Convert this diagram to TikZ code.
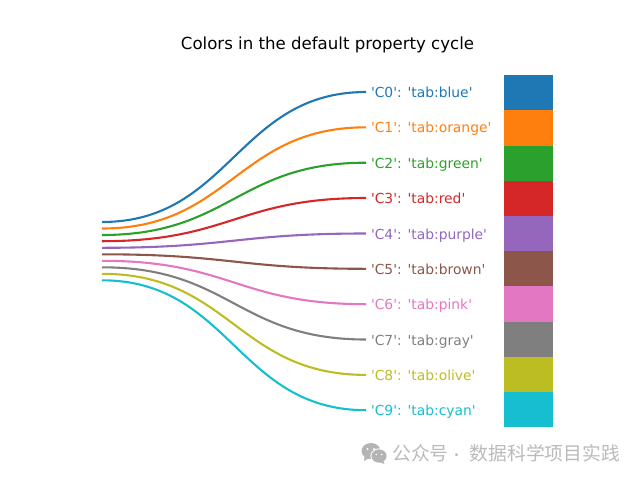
\documentclass[tikz,border=0pt]{standalone}
\usepackage{fontspec}
\newfontfamily\plainfont{DejaVu Sans}
\newfontfamily\cjkfont{Noto Sans CJK SC}
\definecolor{C0}{HTML}{1F77B4}
\definecolor{C1}{HTML}{FF7F0E}
\definecolor{C2}{HTML}{2CA02C}
\definecolor{C3}{HTML}{D62728}
\definecolor{C4}{HTML}{9467BD}
\definecolor{C5}{HTML}{8C564B}
\definecolor{C6}{HTML}{E377C2}
\definecolor{C7}{HTML}{7F7F7F}
\definecolor{C8}{HTML}{BCBD22}
\definecolor{C9}{HTML}{17BECF}
\definecolor{markgray}{HTML}{B4B4B4}
\definecolor{marktext}{HTML}{BABABA}
\begin{document}
\begin{tikzpicture}[
    x=1pt, y=-1pt,
    font=\plainfont\fontsize{13.85}{16}\selectfont,
    lab/.style={anchor=west, inner sep=0pt, outer xsep=5pt, text height=12pt, text depth=1pt},
    swatch/.style={minimum width=49pt, minimum height=35.4pt, inner sep=0pt, draw=none},
    curve/.style={line width=2.1pt},
    title/.style={font=\plainfont\fontsize{16.6}{20}\selectfont},
    wmark/.style={font=\cjkfont\fontsize{18.8}{22}\selectfont, text=marktext, inner sep=0pt}
]
\useasboundingbox (0,0) rectangle (640,480);

% Title
\node[title] (heading) at (327.5,44.5) {Colors in the default property cycle};

% Colour rows
\foreach \i/\name/\ya/\yb/\ys in {
    0/blue/222/92/92.6,
    1/orange/228.5/127.3/127.8,
    2/green/235/162.7/163.2,
    3/red/241.2/198/198.4,
    4/purple/247.8/233.5/233.6,
    5/brown/254.3/268.8/268.8,
    6/pink/260.8/304.2/304,
    7/gray/267.3/339.5/339.2,
    8/olive/273.8/374.9/374.4,
    9/cyan/280.3/410.2/409.6} {
    \coordinate (start\i) at (102,\ya);
    \node[lab, text=C\i] (label\i) at (366,\yb) {'C\i': 'tab:\name'};
    \node[swatch, fill=C\i] (swatch\i) at (528.5,\ys) {};
    \draw[curve, C\i] (start\i) .. controls +(128,0) and +(-128,0) .. (label\i.west);
}

% Watermark
\fill[markgray] (371,451) ellipse [x radius=9.5, y radius=8];
\fill[markgray] (364.5,457) -- (364,461) -- (369,458) -- cycle;
\fill[white] (379,456) ellipse [x radius=8.6, y radius=7.6];
\fill[markgray] (379,456) ellipse [x radius=7.6, y radius=6.6];
\fill[markgray] (383,460) -- (384.5,464) -- (379,462) -- cycle;
\fill[white] (367.5,449) circle (1.2) (374,449) circle (1.2) (376.3,454.5) circle (0.9) (381.7,454.5) circle (0.9);
\node[wmark, anchor=west] (wtext) at (392,453.5) {公众号\hspace{1pt}{\fontsize{14}{16}\selectfont ·}\hspace{6pt}数据科学项目实践};

\end{tikzpicture}
\end{document}
